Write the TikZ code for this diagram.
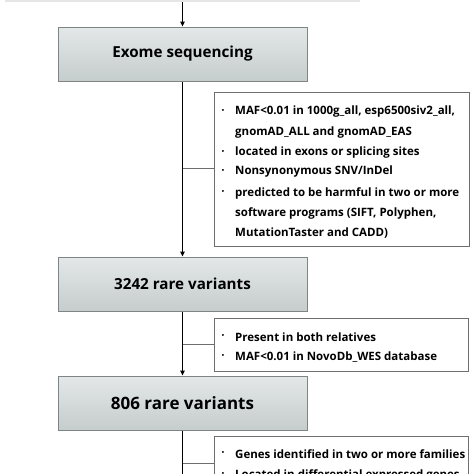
\documentclass[tikz,border=0pt]{standalone}
\usepackage{fontspec}
\setmainfont{Open Sans}
\usetikzlibrary{arrows.meta}
\definecolor{boxtop}{HTML}{E3E7E7}
\definecolor{boxbot}{HTML}{C6CDCD}
\definecolor{boxedge}{HTML}{7F8585}
\definecolor{filtedge}{HTML}{6E6E6E}
\tikzset{
  x=1pt, y=-1pt,
  stagebox/.style={draw=boxedge, line width=1pt, top color=boxtop, bottom color=boxbot,
    minimum width=249pt, minimum height=54pt, inner sep=0pt, font=\bfseries\fontsize{15.2}{17}\selectfont},
  filterbox/.style={draw=filtedge, line width=0.9pt, fill=white},
  flow/.style={line width=1.4pt, -{Triangle[length=5pt,width=4.5pt]}},
  branch/.style={draw=filtedge, line width=0.8pt},
  ftext/.style={anchor=west, inner sep=0pt, font=\bfseries\fontsize{11.5}{13}\selectfont},
  bul/.style={anchor=center, inner sep=0pt, font=\bfseries\fontsize{11.5}{13}\selectfont},
}
\begin{document}
\begin{tikzpicture}
\useasboundingbox (0,0) rectangle (474,474);
\clip (0,0) rectangle (474,474);
% top box (cut off)
\node[fill=boxtop!85!gray!60!white, minimum width=355pt, minimum height=40pt, inner sep=0pt, anchor=south] (top) at (182.5,2) {};
% stage boxes
\node[stagebox] (exome) at (182.5,54) {Exome sequencing};
\node[stagebox] (v3242) at (182.5,284) {3242 rare variants};
\node[stagebox, font=\bfseries\fontsize{17}{19}\selectfont] (v806) at (182.5,403) {806 rare variants};
\coordinate (bottomend) at (182.5,490);
% filter boxes
\draw[filterbox] (214,92) rectangle (469,246);
\draw[filterbox] (214,318) rectangle (468,371);
\draw[filterbox] (214,436) rectangle (468,520);
\coordinate (f1) at (214,168);
\coordinate (f2) at (214,344);
\coordinate (f3) at (214,463);
% flow arrows
\draw[flow] (top.south) -- (exome.north);
\draw[flow] (exome.south) -- (v3242.north);
\draw[flow] (v3242.south) -- (v806.north);
\draw[line width=1.4pt] (v806.south) -- (bottomend);
% branches
\draw[branch] (f1) -- (f1 -| exome.south);
\draw[branch] (f2) -- (f2 -| exome.south);
\draw[branch] (f3) -- (f3 -| exome.south);
% filter texts
\foreach \yy in {112,153,172,193} \node[bul] at (223,\yy) {·};
\node[ftext] (t1) at (235,112) {MAF<0.01 in 1000g\_all, esp6500siv2\_all,};
\node[ftext] (t2) at (235,133) {gnomAD\_ALL and gnomAD\_EAS};
\node[ftext] (t3) at (235,153) {located in exons or splicing sites};
\node[ftext] (t4) at (235,172) {Nonsynonymous SNV/InDel};
\node[ftext] (t5) at (235,193) {predicted to be harmful in two or more};
\node[ftext] (t6) at (235,213) {software programs (SIFT, Polyphen,};
\node[ftext] (t7) at (235,233) {MutationTaster and CADD)};
\foreach \yy in {337,357} \node[bul] at (223,\yy) {·};
\node[ftext] (t8) at (235,337) {Present in both relatives};
\node[ftext] (t9) at (235,357) {MAF<0.01 in NovoDb\_WES database};
\foreach \yy in {454,475} \node[bul] at (223,\yy) {·};
\node[ftext] (t10) at (235,454) {Genes identified in two or more families};
\node[ftext] (t11) at (235,475) {Located in differential expressed genes};
\end{tikzpicture}
\end{document}
